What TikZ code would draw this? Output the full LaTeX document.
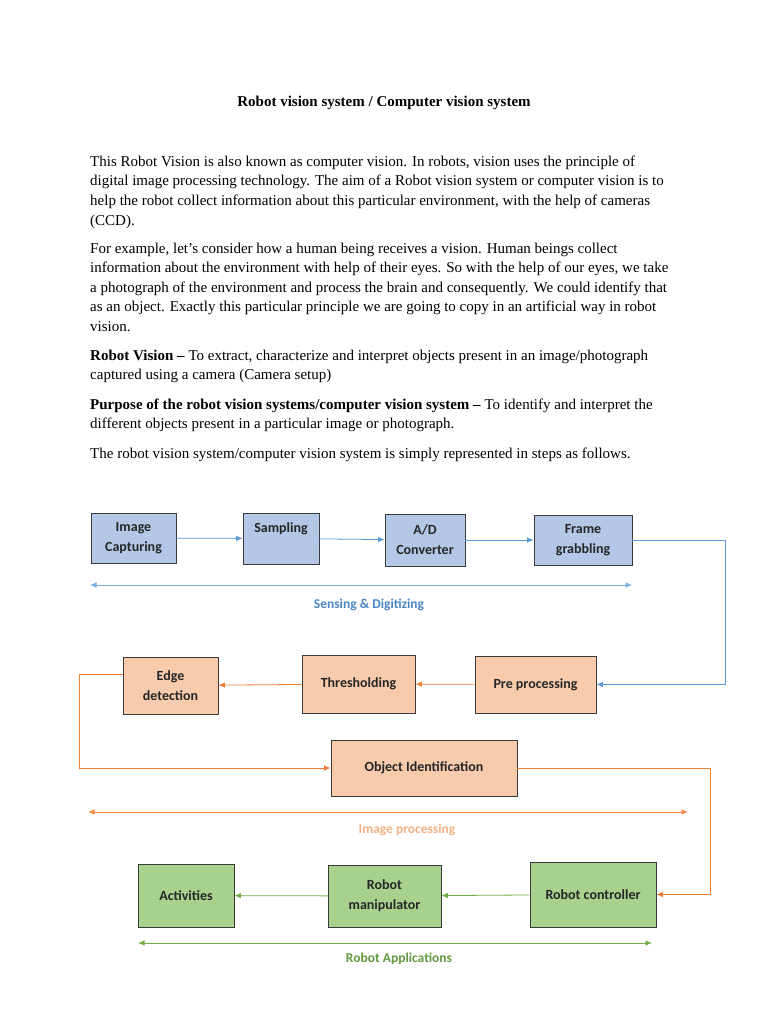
\documentclass[tikz,border=0pt]{standalone}
\usepackage{fontspec}
\setmainfont{Liberation Serif}
\newfontfamily\boxfont{Carlito}
\usetikzlibrary{arrows.meta}
\definecolor{boxblue}{HTML}{B4C7E7}
\definecolor{boxorange}{HTML}{F8CBAD}
\definecolor{boxgreen}{HTML}{A9D18E}
\definecolor{boxline}{HTML}{3A3A3A}
\definecolor{lineblue}{HTML}{5B9BD5}
\definecolor{lineorange}{HTML}{ED7D31}
\definecolor{linegreen}{HTML}{70AD47}
\definecolor{textblue}{HTML}{4A86C5}
\definecolor{textorange}{HTML}{F4B183}
\definecolor{textgreen}{HTML}{619A3F}
\begin{document}
\begin{tikzpicture}[x=1pt,y=-1pt,
                    box/.style={draw=boxline,line width=0.9pt,align=center,inner sep=2pt,text=black!85,
                                font=\boxfont\bfseries\fontsize{14}{20}\selectfont},
                    blue node/.style={box,fill=boxblue},
                    orange node/.style={box,fill=boxorange},
                    green node/.style={box,fill=boxgreen},
                    flow/.style={line width=0.8pt,-{Latex[length=6.5pt,width=5.5pt]}},
                    span/.style={line width=0.8pt,{Latex[length=6.5pt,width=5.5pt]}-{Latex[length=6.5pt,width=5.5pt]}},
                    para/.style={anchor=north west,align=left,inner sep=0pt,
                                 font=\fontsize{15}{19.6}\selectfont},
                    span label/.style={font=\boxfont\bfseries\fontsize{13.5}{15}\selectfont}]
        \useasboundingbox[fill=white] (0,0) rectangle (768,1024);

        % Text above the diagram
        \node[font=\bfseries\fontsize{15}{19.6}\selectfont] (title) at (384,103) {Robot vision system / Computer vision system};
        \node[para] (p1) at (90,155.5) {This Robot Vision is also known as computer vision. In robots, vision uses the principle of\\
            digital image processing technology. The aim of a Robot vision system or computer vision is to\\
            help the robot collect information about this particular environment, with the help of cameras\\
            (CCD).};
        \node[para] (p2) at (90,242.5) {For example, let’s consider how a human being receives a vision. Human beings collect\\
            information about the environment with help of their eyes. So with the help of our eyes, we take\\
            a photograph of the environment and process the brain and consequently. We could identify that\\
            as an object. Exactly this particular principle we are going to copy in an artificial way in robot\\
            vision.};
        \node[para] (p3) at (90,349.5) {\textbf{Robot Vision –} To extract, characterize and interpret objects present in an image/photograph\\
            captured using a camera (Camera setup)};
        \node[para] (p4) at (90,398.5) {\textbf{Purpose of the robot vision systems/computer vision system –} To identify and interpret the\\
            different objects present in a particular image or photograph.};
        \node[para] (p5) at (90,447.5) {The robot vision system/computer vision system is simply represented in steps as follows.};

        % Sensing & Digitizing
        \node[blue node,minimum width=85pt,minimum height=50pt] (capture) at (133.5,538) {Image\\Capturing};
        \node[blue node,minimum width=76pt,minimum height=51pt] (sampling) at (281,538.5) {Sampling\\\phantom{g}};
        \node[blue node,minimum width=80pt,minimum height=52pt] (adc) at (425,540) {A/D\\Converter};
        \node[blue node,minimum width=98pt,minimum height=50pt] (frame) at (583,540) {Frame\\grabbling};

        % Image processing
        \node[orange node,minimum width=95pt,minimum height=57pt] (edge) at (170.5,685.5) {Edge\\detection};
        \node[orange node,minimum width=113pt,minimum height=58pt] (thresh) at (358.5,684) {Thresholding};
        \node[orange node,minimum width=121pt,minimum height=57pt] (pre) at (535.5,684.5) {Pre processing};
        \node[orange node,minimum width=186pt,minimum height=56pt] (object) at (424,768) {Object Identification};

        % Robot applications
        \node[green node,minimum width=96pt,minimum height=63pt] (activities) at (186,895.5) {Activities};
        \node[green node,minimum width=113pt,minimum height=62pt] (manipulator) at (384.5,896) {Robot\\manipulator};
        \node[green node,minimum width=126pt,minimum height=65pt] (controller) at (593,894.5) {Robot controller};

        % Connections
        \draw[flow,lineblue] (capture) -- (sampling);
        \draw[flow,lineblue] (sampling) -- (adc);
        \draw[flow,lineblue] (adc) -- (frame);
        \draw[flow,lineblue] (frame.east) -- ++(93,0) |- (pre.east);
        \draw[flow,lineorange] (pre) -- (thresh);
        \draw[flow,lineorange] (thresh) -- (edge);
        \draw[flow,lineorange] ([yshift=11pt]edge.west) -- ++(-43,0) |- (object.west);
        \draw[flow,lineorange] (object.east) -- ++(193,0) |- (controller.east);
        \draw[flow,linegreen] (controller) -- (manipulator);
        \draw[flow,linegreen] (manipulator) -- (activities);

        % Stage spans
        \coordinate (sense l) at (90,585);
        \coordinate (sense r) at (632,585);
        \coordinate (proc l) at (88,812);
        \coordinate (proc r) at (688,812);
        \coordinate (app l) at (138,943);
        \coordinate (app r) at (652,943);
        \draw[span,lineblue!80] (sense l) -- (sense r);
        \draw[span,lineorange!90] (proc l) -- (proc r);
        \draw[span,linegreen] (app l) -- (app r);
        \node[span label,text=textblue] (sense) at (369,605) {Sensing \& Digitizing};
        \node[span label,text=textorange] (proc) at (407,830) {Image processing};
        \node[span label,text=textgreen] (app) at (399,959) {Robot Applications};
\end{tikzpicture}
\end{document}
